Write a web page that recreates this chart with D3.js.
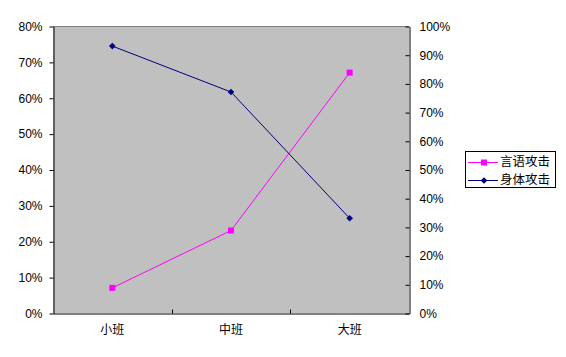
<!DOCTYPE html>
<html lang="zh">
<head>
<meta charset="UTF-8">
<title>言语攻击与身体攻击</title>
<script src="https://d3js.org/d3.v7.min.js"></script>
<style>
    body { margin: 0; background: #fff; }
    svg { display: block; }
    text { font-family: "Liberation Sans", Arial, "Noto Sans CJK SC", sans-serif; font-size: 12px; fill: #000; }
    .cjk { font-family: "Noto Sans CJK SC", "Liberation Sans", sans-serif; }
</style>
</head>
<body>
<svg width="566" height="357"></svg>
<script>
    // data
    const categories = ["小班", "中班", "大班"];
    const verbal = [0.07, 0.23, 0.67];     // 言语攻击, left axis
    const physical = [0.93, 0.77, 0.33];   // 身体攻击, right axis
    const leftTicks = [0, 0.1, 0.2, 0.3, 0.4, 0.5, 0.6, 0.7, 0.8];
    const rightTicks = [0, 0.1, 0.2, 0.3, 0.4, 0.5, 0.6, 0.7, 0.8, 0.9, 1];
    const seriesNames = ["言语攻击", "身体攻击"];

    const svg = d3.select("svg");
    const plot = { left: 53, top: 26, right: 409, bottom: 313 };

    const x = d3.scaleBand().domain(categories).range([plot.left, plot.right]);
    const yLeft = d3.scaleLinear().domain([0, 0.8]).range([plot.bottom, plot.top]);
    const yRight = d3.scaleLinear().domain([0, 1]).range([plot.bottom, plot.top]);
    const pct = d3.format(".0%");

    // plot area
    svg.append("rect")
        .attr("x", plot.left).attr("y", plot.top)
        .attr("width", plot.right - plot.left).attr("height", plot.bottom - plot.top)
        .attr("fill", "#c0c0c0");
    svg.append("line")
        .attr("x1", plot.left).attr("x2", plot.right)
        .attr("y1", plot.top + 0.5).attr("y2", plot.top + 0.5)
        .attr("stroke", "#808080");

    // left axis
    const gl = svg.append("g").attr("transform", `translate(${plot.left + 0.5},0.5)`)
        .call(d3.axisLeft(yLeft).tickValues(leftTicks).tickFormat(pct).tickSizeInner(4).tickSizeOuter(0).tickPadding(7));
    // right axis (ticks pointing inwards)
    const gr = svg.append("g").attr("transform", `translate(${plot.right + 0.5},0.5)`)
        .call(d3.axisRight(yRight).tickValues(rightTicks).tickFormat(pct).tickSizeInner(-4).tickSizeOuter(0).tickPadding(10));
    // bottom axis, ticks at category boundaries
    const gb = svg.append("g").attr("transform", `translate(0,${plot.bottom + 0.5})`)
        .call(d3.axisBottom(x).tickSize(0).tickPadding(12));
    gb.selectAll("text").attr("class", "cjk");
    gb.selectAll(".bound").data(categories.slice(1)).join("line")
        .attr("class", "bound")
        .attr("x1", d => Math.round(x(d)) + 0.5).attr("x2", d => Math.round(x(d)) + 0.5)
        .attr("y1", 0).attr("y2", -4)
        .attr("stroke", "#000");
    [gl, gr, gb].forEach(g => {
        g.selectAll(".domain, line").attr("stroke", "#000");
        g.selectAll("text").style("font-size", "12px").attr("fill", "#000");
    });

    const cx = d => x(d) + x.bandwidth() / 2;

    // 言语攻击 line
    const verbalPts = categories.map((c, i) => [cx(c), yLeft(verbal[i])]);
    svg.append("path")
        .attr("d", d3.line()(verbalPts))
        .attr("fill", "none").attr("stroke", "#ff00ff").attr("stroke-width", 1);
    svg.selectAll(".sq").data(verbalPts).join("rect")
        .attr("class", "sq")
        .attr("x", d => d[0] - 3).attr("y", d => d[1] - 3)
        .attr("width", 6).attr("height", 6)
        .attr("fill", "#ff00ff");

    // 身体攻击 line
    const physPts = categories.map((c, i) => [cx(c), yRight(physical[i])]);
    svg.append("path")
        .attr("d", d3.line()(physPts))
        .attr("fill", "none").attr("stroke", "#000080").attr("stroke-width", 1);
    const diamond = d3.symbol().type(d3.symbolDiamond2).size(28);
    svg.selectAll(".dm").data(physPts).join("path")
        .attr("class", "dm")
        .attr("transform", d => `translate(${d[0]},${d[1]})`)
        .attr("d", diamond)
        .attr("fill", "#000080");

    // legend
    const lg = svg.append("g");
    lg.append("rect")
        .attr("x", 465.5).attr("y", 151.5).attr("width", 90).attr("height", 36)
        .attr("fill", "#fff").attr("stroke", "#000");
    const rows = [
        { name: seriesNames[0], color: "#ff00ff", y: 162 },
        { name: seriesNames[1], color: "#000080", y: 180 }
    ];
    rows.forEach((r, i) => {
        lg.append("line")
            .attr("x1", 468).attr("x2", 498).attr("y1", r.y + 0.5).attr("y2", r.y + 0.5)
            .attr("stroke", r.color);
        if (i === 0) {
            lg.append("rect").attr("x", 481).attr("y", r.y - 2.5).attr("width", 6).attr("height", 6).attr("fill", r.color);
        } else {
            lg.append("path").attr("transform", `translate(484,${r.y + 0.5})`).attr("d", diamond).attr("fill", r.color);
        }
        lg.append("text").attr("class", "cjk")
            .attr("x", 500).attr("y", r.y).attr("dy", "0.35em")
            .style("font-size", "12.5px")
            .text(r.name);
    });
</script>
</body>
</html>
